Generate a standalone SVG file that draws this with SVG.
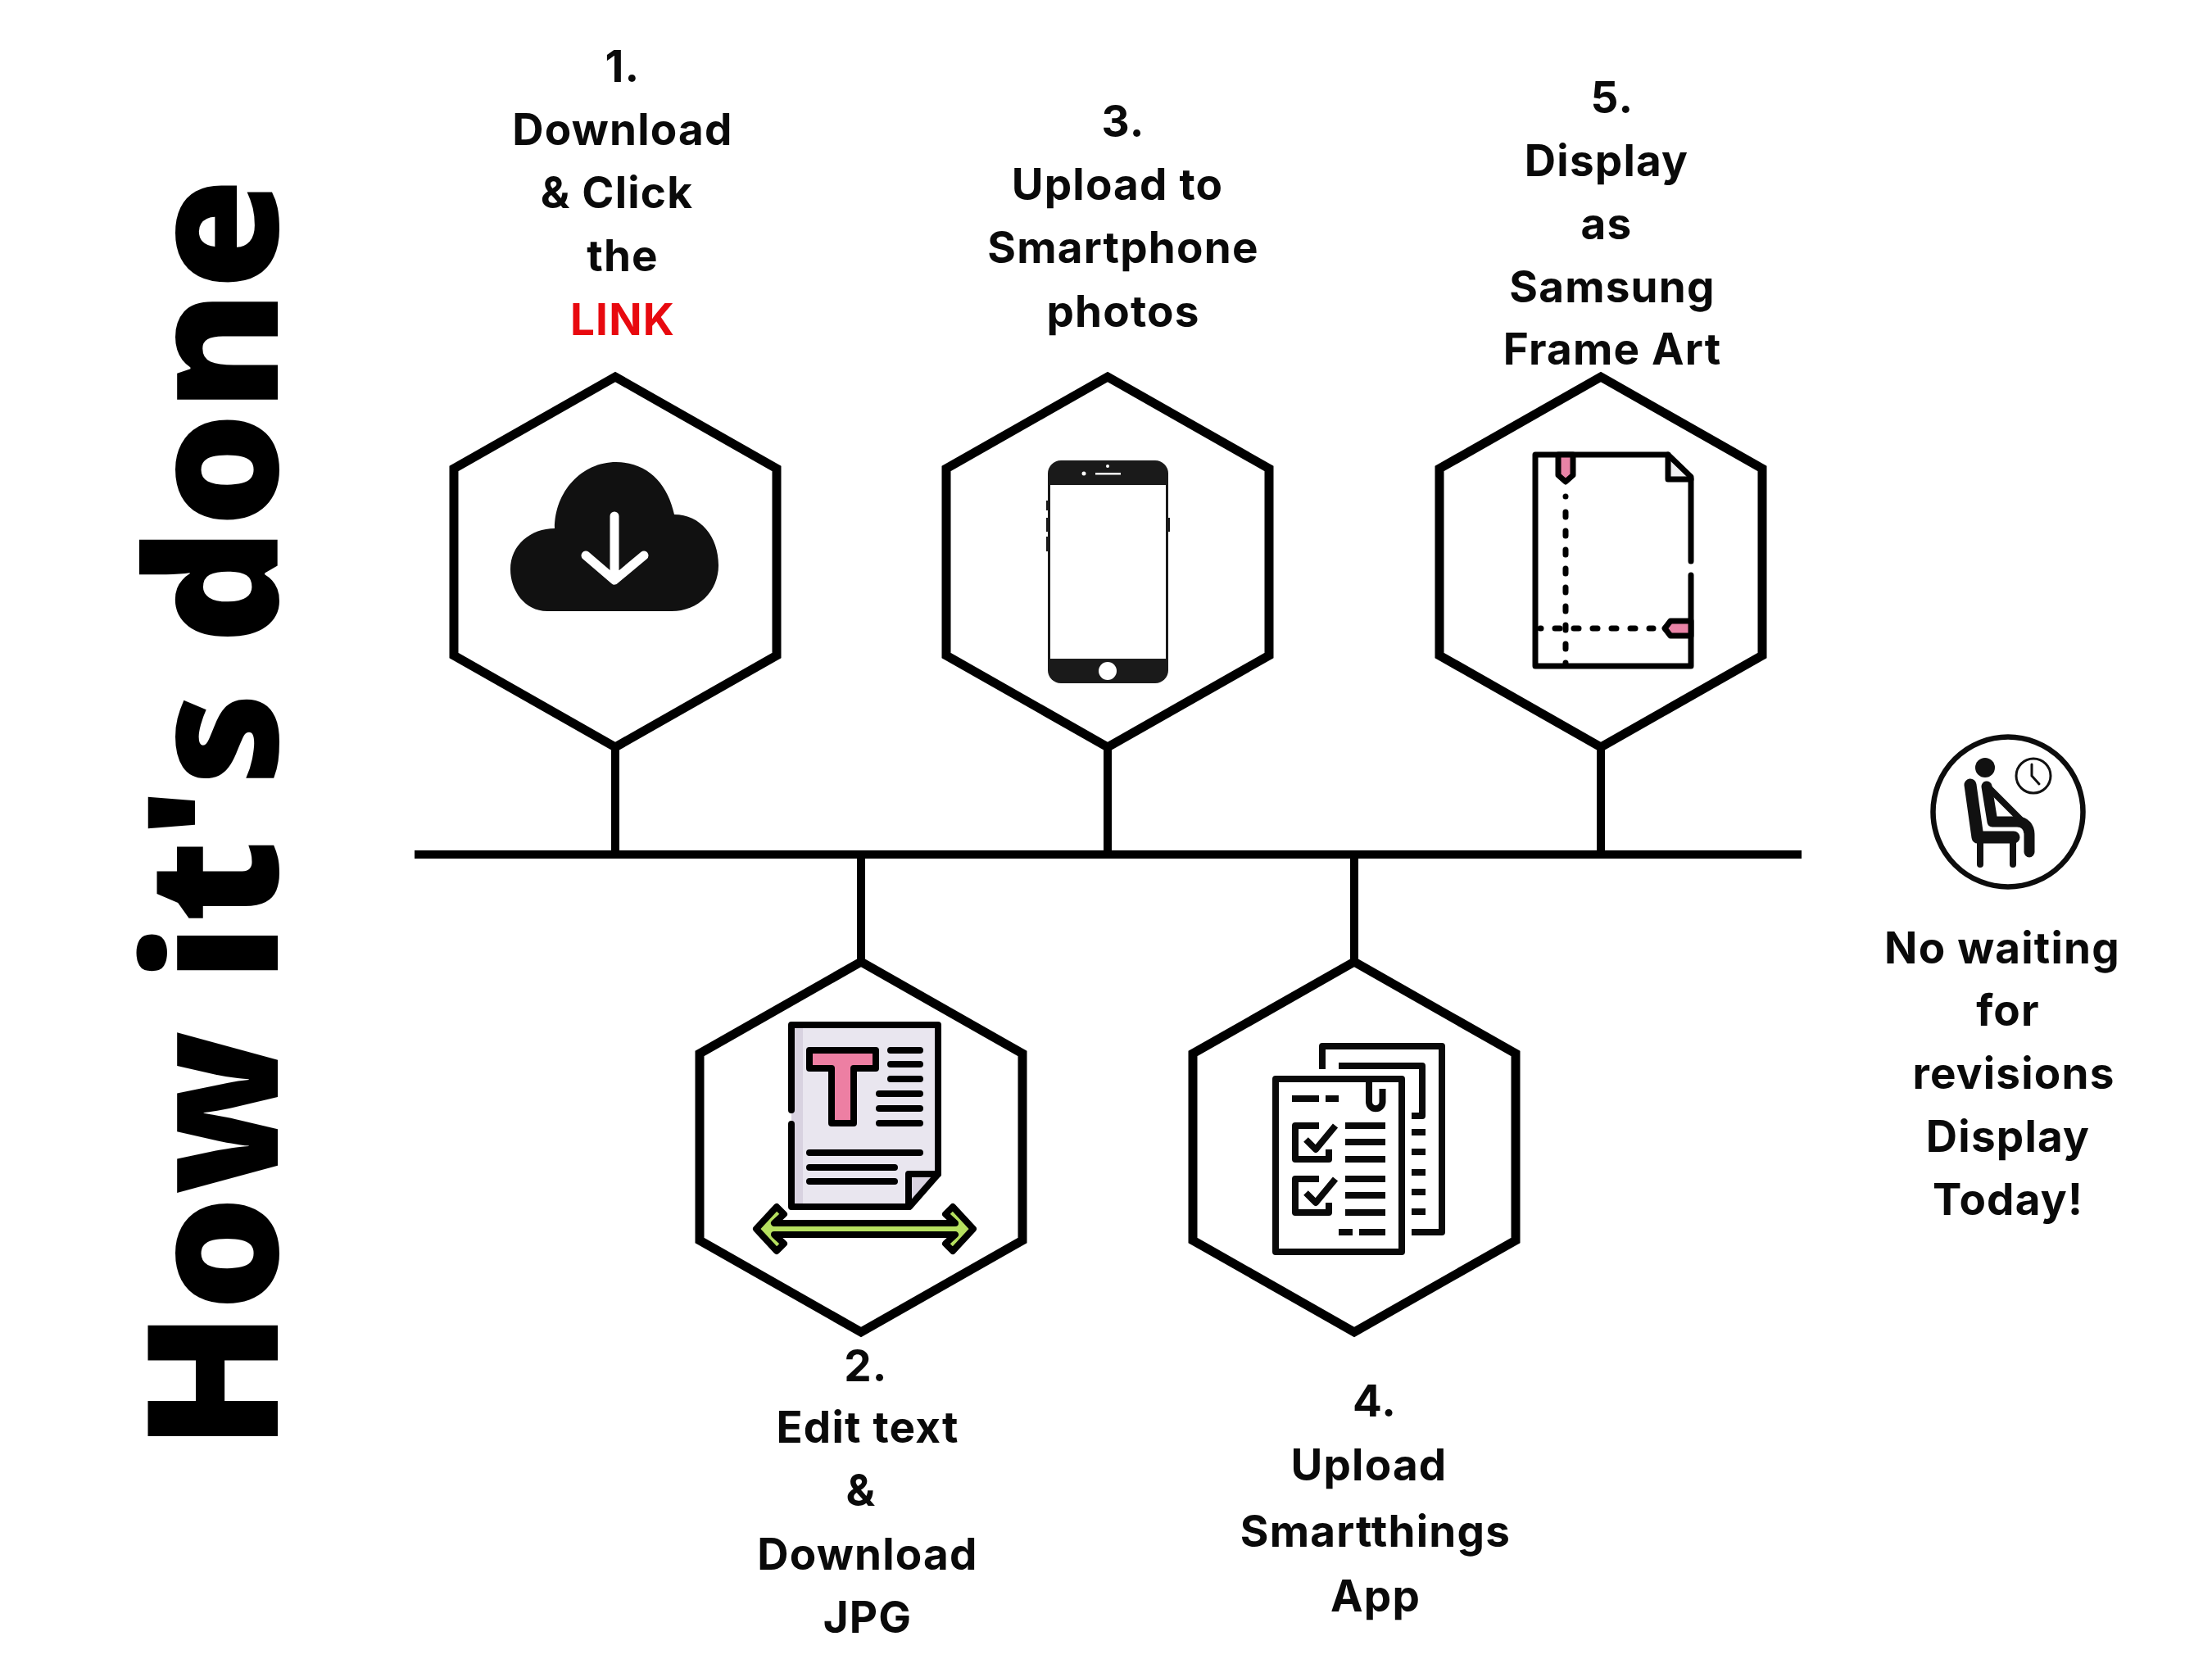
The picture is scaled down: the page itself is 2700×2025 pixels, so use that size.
<svg xmlns="http://www.w3.org/2000/svg" width="2700" height="2025" viewBox="0 0 2700 2025">
<style>
.t{font-family:"Inter","Noto Sans",sans-serif;font-weight:700;font-size:53px;letter-spacing:1.200px;fill:#0a0a0a;text-anchor:middle}
.red{fill:#e8090f}
.title{font-family:"Open Sans","Noto Sans",sans-serif;font-weight:800;font-size:221px;fill:#000}
.hex{fill:#fff;stroke:#000;stroke-width:11;stroke-miterlimit:10}
.wire{stroke:#000;stroke-width:10;fill:none}
.ol{fill:none;stroke:#000;stroke-width:7;stroke-linecap:round;stroke-linejoin:round}
.ol8{fill:none;stroke:#000;stroke-width:8;stroke-linecap:round;stroke-linejoin:round}
.sq{fill:none;stroke:#0a0a0a;stroke-width:8;stroke-linejoin:round}
</style>
<defs>
<polygon id="hexagon" class="hex" points="0,-226 197,-114 197,114 0,226 -197,114 -197,-114"/>
</defs>
<rect width="2700" height="2025" fill="#fff"/>
<text id="title" class="title" transform="translate(339 1770) rotate(-90)" textLength="1553" lengthAdjust="spacing">How it's done</text>
<g id="connectors">
<path class="wire" d="M506 1043H2199"/>
<path class="wire" d="M751 912V1043M1352 912V1043M1954 912V1043M1051 1043V1174M1653 1043V1174"/>
</g>
<g id="node1">
<use href="#hexagon" x="751" y="686"/>
<path fill="#111" d="M668 746C640 746 623 720 623 695C623 665 648 645 677 645C677 600 710 564 752 564C790 564 815 590 823 628C855 628 877 655 877 690C877 722 852 746 820 746Z"/>
<path d="M750 630V708M715 678L750 708L786 678" fill="none" stroke="#fff" stroke-width="11" stroke-linecap="round" stroke-linejoin="round"/>
<text class="t"><tspan x="760" y="100">1.</tspan><tspan x="760" y="177">Download</tspan><tspan x="753" y="254">&amp; Click</tspan><tspan x="760" y="331">the</tspan><tspan x="760" y="409" class="red">LINK</tspan></text>
</g>
<g id="node3">
<use href="#hexagon" x="1352" y="686"/>
<rect x="1279" y="562" width="147" height="272" rx="16" fill="#1a1a1a"/>
<path fill="#1a1a1a" d="M1277 611h3v12h-3zM1277 632h3v17h-3zM1277 655h3v18h-3zM1425 632h3v17h-3z"/>
<rect x="1282" y="592" width="141" height="212" fill="#fff"/>
<circle cx="1323" cy="578" r="2.500" fill="#fff"/><circle cx="1352" cy="569" r="2" fill="#fff"/>
<rect x="1337" y="577" width="31" height="2.500" fill="#fff"/><circle cx="1352" cy="819" r="11" fill="#fff"/>
<text class="t"><tspan x="1371" y="167">3.</tspan><tspan x="1364" y="244">Upload to</tspan><tspan x="1371" y="321">Smartphone</tspan><tspan x="1371" y="399">photos</tspan></text>
</g>
<g id="node5">
<use href="#hexagon" x="1954" y="686"/>
<path d="M2036 555L2064 582H2036Z" fill="#f0f0f2"/>
<path class="ol" d="M2064 685V582L2036 555H1874V813H2064V702"/>
<path class="ol" d="M2036 555V585H2064"/>
<path d="M1902 555V580L1911 588L1920 580V555Z" fill="#e983a6" stroke="#000" stroke-width="7" stroke-linejoin="round"/>
<path d="M2064 758H2039L2032 767L2039 776H2064Z" fill="#e983a6" stroke="#000" stroke-width="7" stroke-linejoin="round"/>
<path class="ol" d="M1911 606V606.100M1911 625V811" stroke-dasharray="6 17"/>
<path class="ol" d="M1880 767H1881M1898 767H2018" stroke-dasharray="6 17"/>
<text class="t"><tspan x="1968" y="138">5.</tspan><tspan x="1961" y="215">Display</tspan><tspan x="1961" y="292">as</tspan><tspan x="1968" y="369">Samsung</tspan><tspan x="1968" y="445">Frame Art</tspan></text>
</g>
<g id="node2">
<use href="#hexagon" x="1051" y="1400"/>
<path d="M966 1251H1145V1433L1109 1473H966Z" fill="#e9e6ef"/>
<path d="M966 1251H980V1473H966Z" fill="#d8d2e0"/>
<path d="M1109 1433H1145L1109 1473Z" fill="#d8d2e0"/>
<path class="ol8" d="M966 1355V1251H1145V1433L1110 1473H966V1372"/>
<path class="ol8" d="M1109 1473V1433H1145"/>
<path d="M988 1282H1069V1304H1042V1371H1015V1304H988Z" fill="#ed7fa3" stroke="#000" stroke-width="8" stroke-linejoin="round"/>
<path class="ol8" d="M1087 1282H1123M1087 1299H1123M1087 1317H1123M1073 1335H1123M1073 1353H1123M1073 1371H1123M988 1407H1123M988 1425H1092M988 1442H1092"/>
<path d="M923 1500L948 1473L957 1482L945 1493H1166L1154 1482L1163 1473L1188 1500L1163 1527L1154 1518L1166 1507H945L957 1518L948 1527Z" fill="#b5e05f" stroke="#000" stroke-width="8" stroke-linejoin="round"/>
<text class="t"><tspan x="1057" y="1686">2.</tspan><tspan x="1059" y="1761">Edit text</tspan><tspan x="1051" y="1838">&amp;</tspan><tspan x="1059" y="1916">Download</tspan><tspan x="1059" y="1993">JPG</tspan></text>
</g>
<g id="node4">
<use href="#hexagon" x="1653" y="1400"/>
<path class="sq" d="M1614 1305V1277H1760V1504H1723M1634 1301H1736V1362H1723"/>
<path class="sq" d="M1723 1382H1740M1723 1406H1740M1723 1431H1740M1723 1455H1740M1723 1479H1740"/>
<rect x="1557" y="1317" width="154" height="211" class="sq"/>
<path class="sq" d="M1671 1321V1345A8 8 0 0 0 1687.500 1345V1329"/>
<path class="sq" d="M1577 1341H1610M1618 1341H1634M1610 1374H1581V1415H1622V1403M1594 1391L1606 1403L1630 1374M1642 1374H1691M1642 1394H1691M1642 1415H1691M1610 1439H1581V1480H1622V1468M1594 1456L1606 1468L1630 1439M1642 1439H1691M1642 1459H1691M1642 1480H1691M1634 1504H1651M1659 1504H1691"/>
<text class="t"><tspan x="1678" y="1729">4.</tspan><tspan x="1671" y="1807">Upload</tspan><tspan x="1679" y="1888">Smartthings</tspan><tspan x="1679" y="1967">App</tspan></text>
</g>
<g id="note">
<circle cx="2451" cy="991" r="91.500" fill="#fff" stroke="#0d0d0d" stroke-width="6.500"/>
<circle cx="2423" cy="937" r="12" fill="#111"/>
<circle cx="2482" cy="947" r="21" fill="none" stroke="#111" stroke-width="3"/>
<path d="M2480 933V947L2489 957" fill="none" stroke="#111" stroke-width="3" stroke-linecap="round"/>
<path d="M2405 958L2414 1022H2458" fill="none" stroke="#111" stroke-width="15" stroke-linecap="round" stroke-linejoin="round"/>
<path d="M2417 1028V1055M2457 1028V1055" stroke="#111" stroke-width="8" stroke-linecap="round"/>
<path d="M2425 960L2432 1003H2462C2472 1003 2477 1010 2477 1019V1040" fill="none" stroke="#111" stroke-width="13" stroke-linecap="round" stroke-linejoin="round"/>
<path d="M2428 962L2468 1002" stroke="#111" stroke-width="8" stroke-linecap="round"/>
<text class="t"><tspan x="2444" y="1176">No waiting</tspan><tspan x="2451" y="1252">for</tspan><tspan x="2458" y="1329">revisions</tspan><tspan x="2451" y="1406">Display</tspan><tspan x="2451" y="1483">Today!</tspan></text>
</g>
</svg>
